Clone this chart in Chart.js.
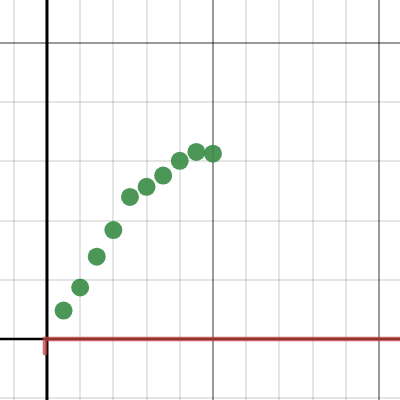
<!DOCTYPE html>
<html>
<head>
<meta charset="utf-8">
<script src="https://cdn.jsdelivr.net/npm/chart.js@4.4.1/dist/chart.umd.min.js"></script>
<style>
  html, body { margin: 0; padding: 0; background: #fff; }
  #wrap { width: 400px; height: 400px; }
</style>
</head>
<body>
<div id="wrap"><canvas id="myChart" width="400" height="400"></canvas></div>
<script>
// scatter points
const xValues = [1, 2, 3, 4, 5, 6, 7, 8, 9, 10];
const yValues = [4.8, 8.7, 13.9, 18.4, 24.0, 25.7, 27.6, 30.1, 31.6, 31.3];

// red curve (runs along the x axis, short drop at x = 0)
const curveX = [-0.12, -0.12, 22];
const curveY = [-2.4, 0, 0];

// view window and grid steps
const xRange = [-2.83, 21.27];
const yRange = [-10.3, 57.26];
const xStep = 2, xMajor = 10;
const yStep = 10, yMajor = 50;

const points = xValues.map((x, i) => ({x: x, y: yValues[i]}));
const curve = curveX.map((x, i) => ({x: x, y: curveY[i]}));

function gridColor(major) {
    return function(ctx) {
        const v = ctx.tick.value;
        if (Math.abs(v) < 1e-9) return 'rgba(0,0,0,0)';
        if (Math.abs(v % major) < 1e-9) return 'rgba(0,0,0,0.4)';
        return 'rgba(0,0,0,0.1)';
    };
}

// black axes drawn under the data, over the grid
const axesPlugin = {
    id: 'axes',
    beforeDatasetsDraw(chart) {
        const c = chart.ctx;
        const xs = chart.scales.x, ys = chart.scales.y;
        const px = xs.getPixelForValue(0), py = ys.getPixelForValue(0);
        c.save();
        c.strokeStyle = '#000';
        c.lineWidth = 3;
        c.beginPath();
        c.moveTo(px, chart.chartArea.top);
        c.lineTo(px, chart.chartArea.bottom);
        c.stroke();
        c.lineWidth = 2.5;
        c.beginPath();
        c.moveTo(chart.chartArea.left, py);
        c.lineTo(chart.chartArea.right, py);
        c.stroke();
        c.restore();
    }
};

new Chart("myChart", {
    type: "scatter",
    data: {
        datasets: [{
            type: "line",
            data: curve,
            borderColor: "rgba(199,68,64,0.75)",
            borderWidth: 4.5,
            pointRadius: 0,
            fill: false,
            tension: 0,
            borderCapStyle: "round"
        }, {
            data: points,
            backgroundColor: "rgba(56,140,70,0.9)",
            borderWidth: 0,
            pointRadius: 9,
            pointHoverRadius: 9
        }]
    },
    plugins: [axesPlugin],
    options: {
        responsive: false,
        animation: false,
        layout: {padding: 0, autoPadding: false},
        plugins: {
            legend: {display: false},
            tooltip: {enabled: false}
        },
        scales: {
            x: {
                type: "linear",
                min: xRange[0],
                max: xRange[1],
                border: {display: false},
                ticks: {display: false, stepSize: xStep, includeBounds: false, padding: 0},
                grid: {color: gridColor(xMajor), lineWidth: 2, drawTicks: false}
            },
            y: {
                type: "linear",
                min: yRange[0],
                max: yRange[1],
                border: {display: false},
                ticks: {display: false, stepSize: yStep, includeBounds: false, padding: 0},
                grid: {color: gridColor(yMajor), lineWidth: 2, drawTicks: false}
            }
        }
    }
});
</script>
</body>
</html>
